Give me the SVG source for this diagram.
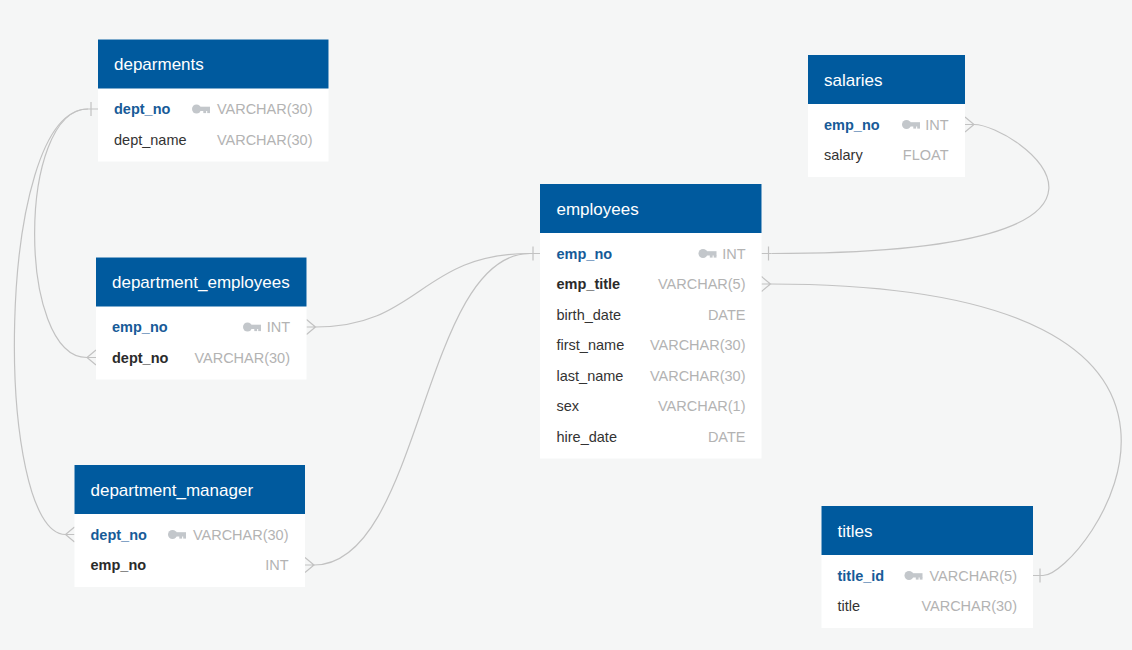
<svg xmlns="http://www.w3.org/2000/svg" width="1132" height="650" viewBox="0 0 1132 650">
<style>
.hdr{fill:#005a9e}
.body{fill:#ffffff}
.title{font-family:"Liberation Sans",Arial,sans-serif;font-size:17px;fill:#ffffff}
.f{font-family:"Liberation Sans",Arial,sans-serif;font-size:14.5px;fill:#333333}
.pk{font-weight:bold;fill:#175b98}
.fk{font-weight:bold;fill:#2b2b2b}
.t{font-family:"Liberation Sans",Arial,sans-serif;font-size:14.5px;fill:#b3b3b3;text-anchor:end}
.conn{fill:none;stroke:#c2c2c2;stroke-width:1.2}
.keyc{fill:#c3c7cb}
</style>
<defs>
<g id="key" class="keyc">
<circle cx="4.5" cy="0" r="4.5"/>
<rect x="6.5" y="-2.3" width="11.5" height="4.3"/>
<rect x="11.3" y="1.5" width="2.8" height="2.6"/>
<rect x="15.2" y="1.5" width="2.8" height="2.6"/>
</g>
<path id="crow" d="M0,-7.5 L9,0 L0,7.5 M0,0 L9,0"/>
<path id="one" d="M0,0 L10,0 M7,-7 L7,7"/>
</defs>
<rect x="0" y="0" width="1132" height="650" fill="#f5f6f6"/>

<g id="connectors" class="conn">
<path d="M88,109 C17,109 17,357.5 87,357.5"/>
<path d="M88,109 C-6,109 -6,534.5 65.5,534.5"/>
<path d="M530,253.5 C420,253.5 420,327 315.5,327"/>
<path d="M530,253.5 C422,253.5 422,565 314,565"/>
<path d="M771.5,253.5 C1200,253.5 1015,124.5 974,124.5"/>
<path d="M770.5,284 C1300,284 1084,575.5 1043,575.5"/>
<use href="#one" transform="translate(98,109) scale(-1,1)"/>
<use href="#crow" transform="translate(96,357.5) scale(-1,1)"/>
<use href="#crow" transform="translate(74.5,534.5) scale(-1,1)"/>
<use href="#one" transform="translate(540,253.5) scale(-1,1)"/>
<use href="#crow" transform="translate(306.5,327)"/>
<use href="#crow" transform="translate(305,565)"/>
<use href="#one" transform="translate(761.5,253.5)"/>
<use href="#crow" transform="translate(965,124.5)"/>
<use href="#crow" transform="translate(761.5,284)"/>
<use href="#one" transform="translate(1033,575.5)"/>
</g>

<g id="deparments">
<rect class="body" x="98" y="39.5" width="230.5" height="122"/>
<rect class="hdr" x="98" y="39.5" width="230.5" height="49"/>
<text class="title" x="114" y="70">deparments</text>
<text class="f pk" x="114" y="114">dept_no</text>
<use href="#key" x="192" y="109"/>
<text class="t" x="312.5" y="114">VARCHAR(30)</text>
<text class="f" x="114" y="144.5">dept_name</text>
<text class="t" x="312.5" y="144.5">VARCHAR(30)</text>
</g>

<g id="department_employees">
<rect class="body" x="96" y="257.5" width="210.5" height="122"/>
<rect class="hdr" x="96" y="257.5" width="210.5" height="49"/>
<text class="title" x="112" y="288">department_employees</text>
<text class="f pk" x="112" y="332">emp_no</text>
<use href="#key" x="243" y="327"/>
<text class="t" x="290" y="332">INT</text>
<text class="f fk" x="112" y="362.5">dept_no</text>
<text class="t" x="290" y="362.5">VARCHAR(30)</text>
</g>

<g id="department_manager">
<rect class="body" x="74.5" y="465" width="230.5" height="122"/>
<rect class="hdr" x="74.5" y="465" width="230.5" height="49"/>
<text class="title" x="90.5" y="495.5">department_manager</text>
<text class="f pk" x="90.5" y="539.5">dept_no</text>
<use href="#key" x="168" y="534.5"/>
<text class="t" x="288.5" y="539.5">VARCHAR(30)</text>
<text class="f fk" x="90.5" y="570">emp_no</text>
<text class="t" x="288.5" y="570">INT</text>
</g>

<g id="employees">
<rect class="body" x="540" y="184" width="221.5" height="274.5"/>
<rect class="hdr" x="540" y="184" width="221.5" height="49"/>
<text class="title" x="556.5" y="214.5">employees</text>
<text class="f pk" x="556.5" y="258.5">emp_no</text>
<use href="#key" x="698.5" y="253.5"/>
<text class="t" x="745.5" y="258.5">INT</text>
<text class="f fk" x="556.5" y="289">emp_title</text>
<text class="t" x="745.5" y="289">VARCHAR(5)</text>
<text class="f" x="556.5" y="319.5">birth_date</text>
<text class="t" x="745.5" y="319.5">DATE</text>
<text class="f" x="556.5" y="350">first_name</text>
<text class="t" x="745.5" y="350">VARCHAR(30)</text>
<text class="f" x="556.5" y="380.5">last_name</text>
<text class="t" x="745.5" y="380.5">VARCHAR(30)</text>
<text class="f" x="556.5" y="411">sex</text>
<text class="t" x="745.5" y="411">VARCHAR(1)</text>
<text class="f" x="556.5" y="441.5">hire_date</text>
<text class="t" x="745.5" y="441.5">DATE</text>
</g>

<g id="salaries">
<rect class="body" x="808" y="55" width="157" height="122"/>
<rect class="hdr" x="808" y="55" width="157" height="49"/>
<text class="title" x="824" y="85.5">salaries</text>
<text class="f pk" x="824" y="129.5">emp_no</text>
<use href="#key" x="902" y="124.5"/>
<text class="t" x="948.5" y="129.5">INT</text>
<text class="f" x="824" y="160">salary</text>
<text class="t" x="948.5" y="160">FLOAT</text>
</g>

<g id="titles">
<rect class="body" x="821.5" y="506" width="211.5" height="122"/>
<rect class="hdr" x="821.5" y="506" width="211.5" height="49"/>
<text class="title" x="837.5" y="536.5">titles</text>
<text class="f pk" x="837.5" y="580.5">title_id</text>
<use href="#key" x="904.5" y="575.5"/>
<text class="t" x="1017" y="580.5">VARCHAR(5)</text>
<text class="f" x="837.5" y="611">title</text>
<text class="t" x="1017" y="611">VARCHAR(30)</text>
</g>
</svg>
